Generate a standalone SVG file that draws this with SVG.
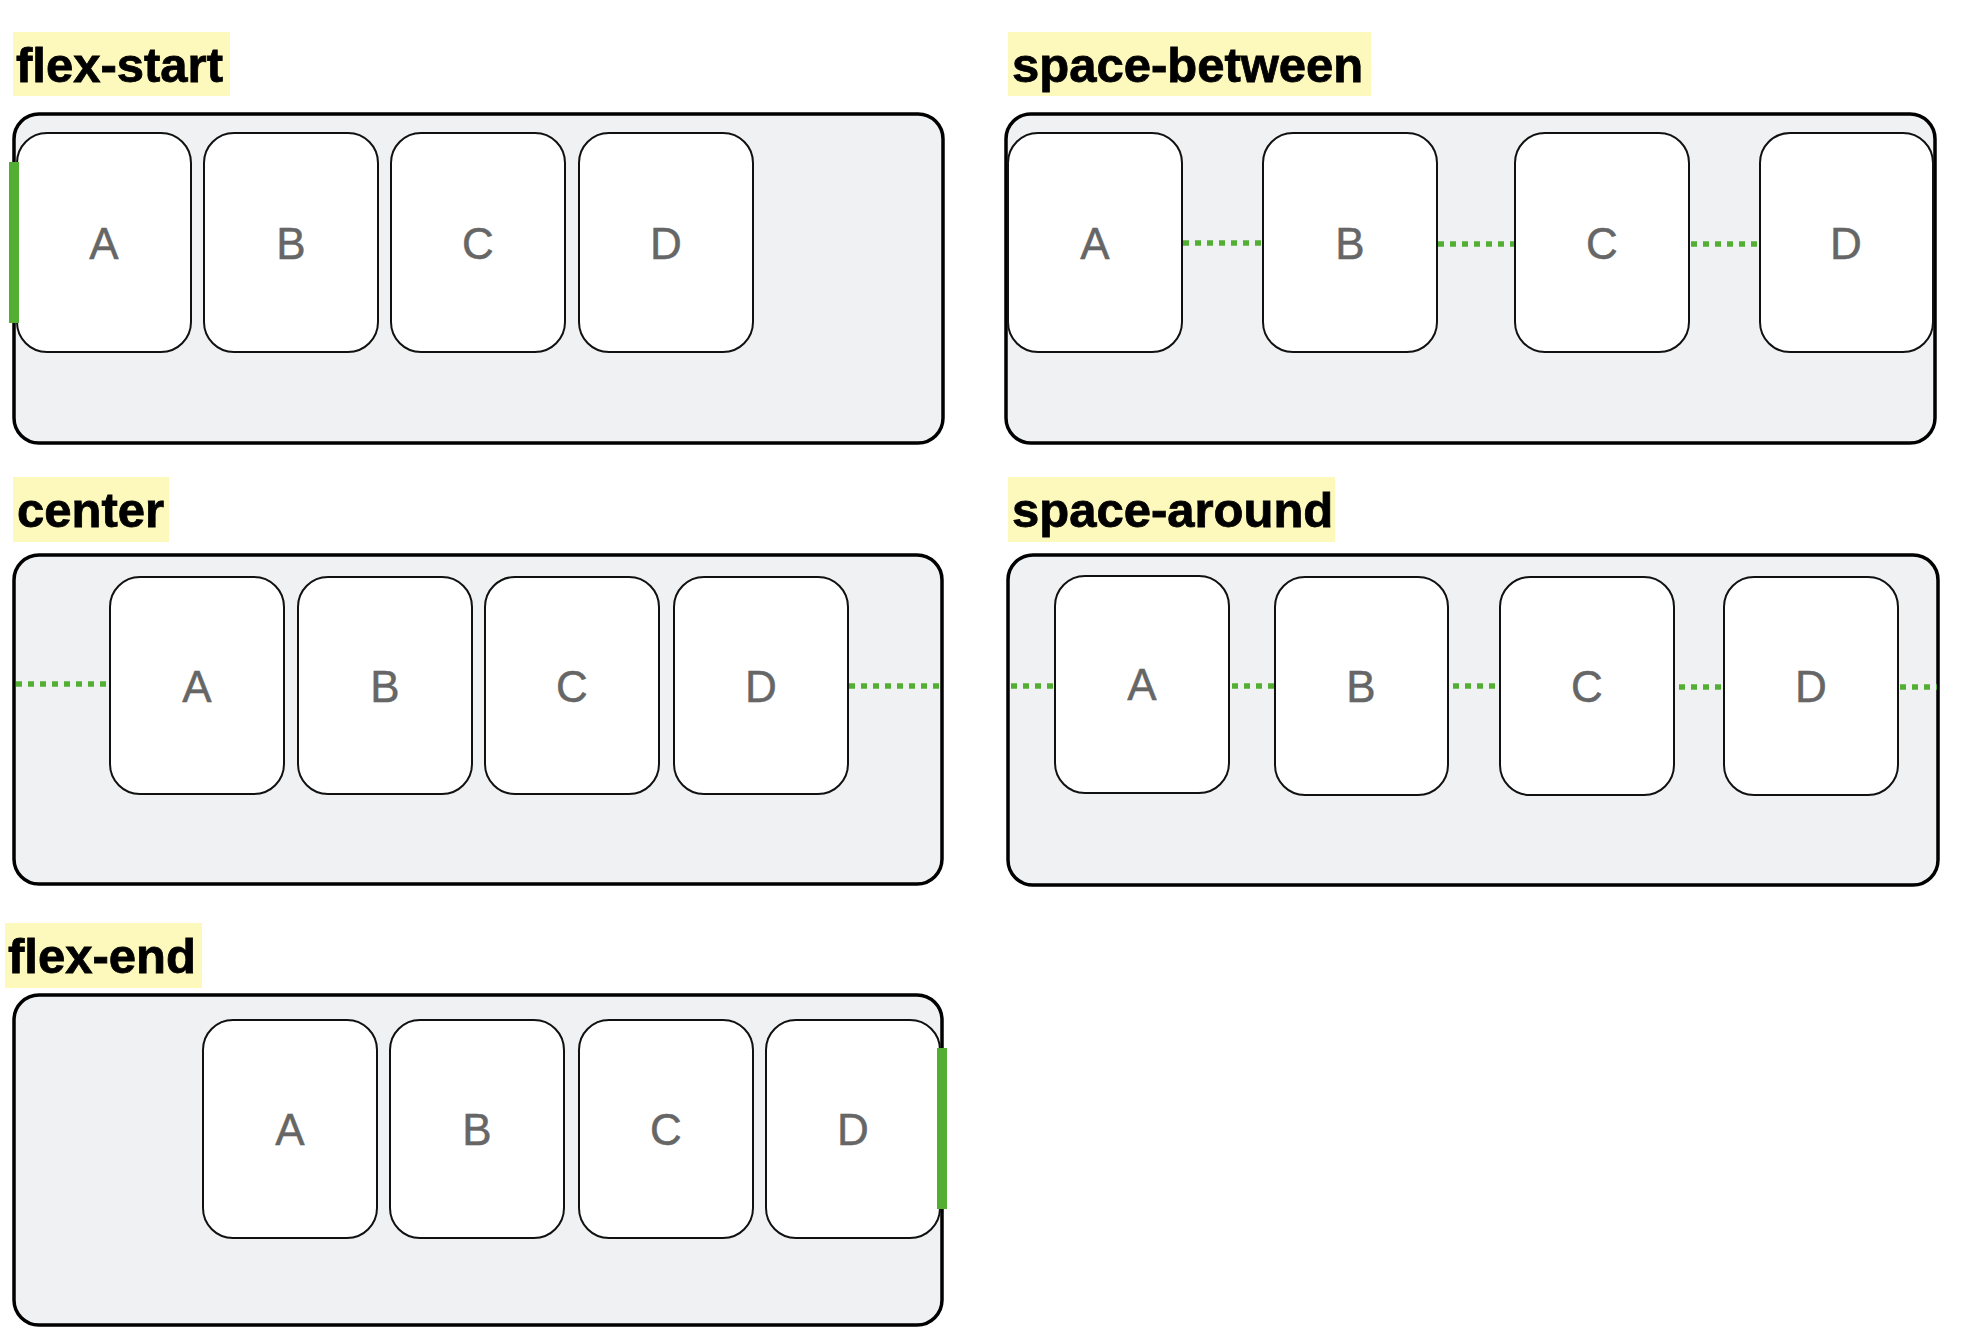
<svg xmlns="http://www.w3.org/2000/svg" width="1962" height="1338" viewBox="0 0 1962 1338">
<style>
.bg{fill:#ffffff}
.lblbg{fill:#fdf8bb}
.lbl{font-family:"Liberation Sans",Arial,Helvetica,sans-serif;font-weight:bold;font-size:49px;fill:#000;stroke:#000;stroke-width:0.8}
.box{fill:#f0f1f2;stroke:#000;stroke-width:3.5}
.item{fill:#fff;stroke:#111;stroke-width:2}
.ltr{font-family:"Liberation Sans",Arial,Helvetica,sans-serif;font-size:44px;fill:#666;stroke:#666;stroke-width:0.5;text-anchor:middle}
.dot{stroke:#53ae34;stroke-width:5.5;stroke-dasharray:6 6;fill:none}
.bar{fill:#53ae34}
</style>
<rect class="bg" x="0" y="0" width="1962" height="1338"/>

<g id="panel-flex-start">
<rect class="lblbg" x="13" y="32" width="217" height="64"/>
<text class="lbl" x="16" y="82">flex-start</text>
<rect class="box" x="14" y="114" width="929" height="329" rx="25"/>
<g id="fs-A"><rect class="item" x="17" y="133" width="174" height="219" rx="30"/><text class="ltr" x="104" y="259">A</text></g>
<g id="fs-B"><rect class="item" x="204" y="133" width="174" height="219" rx="30"/><text class="ltr" x="291" y="259">B</text></g>
<g id="fs-C"><rect class="item" x="391" y="133" width="174" height="219" rx="30"/><text class="ltr" x="478" y="259">C</text></g>
<g id="fs-D"><rect class="item" x="579" y="133" width="174" height="219" rx="30"/><text class="ltr" x="666" y="259">D</text></g>
<rect class="bar" x="9" y="162" width="10" height="161"/>
</g>

<g id="panel-space-between">
<rect class="lblbg" x="1008" y="32" width="363" height="64"/>
<text class="lbl" x="1012" y="82">space-between</text>
<rect class="box" x="1006" y="114" width="929" height="329" rx="25"/>
<g id="sb-A"><rect class="item" x="1008" y="133" width="174" height="219" rx="30"/><text class="ltr" x="1095" y="259">A</text></g>
<g id="sb-B"><rect class="item" x="1263" y="133" width="174" height="219" rx="30"/><text class="ltr" x="1350" y="259">B</text></g>
<g id="sb-C"><rect class="item" x="1515" y="133" width="174" height="219" rx="30"/><text class="ltr" x="1602" y="259">C</text></g>
<g id="sb-D"><rect class="item" x="1760" y="133" width="173" height="219" rx="30"/><text class="ltr" x="1846" y="259">D</text></g>
</g>

<g id="panel-center">
<rect class="lblbg" x="13" y="477" width="156" height="65"/>
<text class="lbl" x="17" y="527">center</text>
<rect class="box" x="14" y="555" width="928" height="329" rx="25"/>
<g id="c-A"><rect class="item" x="110" y="577" width="174" height="217" rx="30"/><text class="ltr" x="197" y="702">A</text></g>
<g id="c-B"><rect class="item" x="298" y="577" width="174" height="217" rx="30"/><text class="ltr" x="385" y="702">B</text></g>
<g id="c-C"><rect class="item" x="485" y="577" width="174" height="217" rx="30"/><text class="ltr" x="572" y="702">C</text></g>
<g id="c-D"><rect class="item" x="674" y="577" width="174" height="217" rx="30"/><text class="ltr" x="761" y="702">D</text></g>
</g>

<g id="panel-space-around">
<rect class="lblbg" x="1008" y="477" width="327" height="65"/>
<text class="lbl" x="1012" y="527">space-around</text>
<rect class="box" x="1008" y="555" width="930" height="330" rx="25"/>
<g id="sa-A"><rect class="item" x="1055" y="576" width="174" height="217" rx="30"/><text class="ltr" x="1142" y="700">A</text></g>
<g id="sa-B"><rect class="item" x="1275" y="577" width="173" height="218" rx="30"/><text class="ltr" x="1361" y="702">B</text></g>
<g id="sa-C"><rect class="item" x="1500" y="577" width="174" height="218" rx="30"/><text class="ltr" x="1587" y="702">C</text></g>
<g id="sa-D"><rect class="item" x="1724" y="577" width="174" height="218" rx="30"/><text class="ltr" x="1811" y="702">D</text></g>
</g>

<g id="panel-flex-end">
<rect class="lblbg" x="5" y="923" width="197" height="65"/>
<text class="lbl" x="8" y="973">flex-end</text>
<rect class="box" x="14" y="995" width="928" height="330" rx="25"/>
<g id="fe-A"><rect class="item" x="203" y="1020" width="174" height="218" rx="30"/><text class="ltr" x="290" y="1145">A</text></g>
<g id="fe-B"><rect class="item" x="390" y="1020" width="174" height="218" rx="30"/><text class="ltr" x="477" y="1145">B</text></g>
<g id="fe-C"><rect class="item" x="579" y="1020" width="174" height="218" rx="30"/><text class="ltr" x="666" y="1145">C</text></g>
<g id="fe-D"><rect class="item" x="766" y="1020" width="174" height="218" rx="30"/><text class="ltr" x="853" y="1145">D</text></g>
<rect class="bar" x="937" y="1048" width="10" height="161"/>
</g>

<g id="connectors">
<line class="dot" x1="1183" y1="243" x2="1262" y2="243"/>
<line class="dot" x1="1438" y1="244" x2="1514" y2="244"/>
<line class="dot" x1="1691" y1="244" x2="1759" y2="244"/>
<line class="dot" x1="16" y1="684" x2="110" y2="684"/>
<line class="dot" x1="849" y1="686" x2="941" y2="686"/>
<line class="dot" x1="1011" y1="686" x2="1054" y2="686"/>
<line class="dot" x1="1232" y1="686" x2="1274" y2="686"/>
<line class="dot" x1="1453" y1="686" x2="1499" y2="686"/>
<line class="dot" x1="1679" y1="687" x2="1723" y2="687"/>
<line class="dot" x1="1900" y1="687" x2="1937" y2="687"/>
</g>
</svg>
